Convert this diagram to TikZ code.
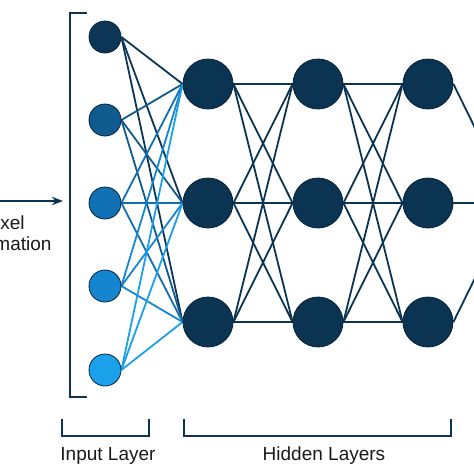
\documentclass[tikz,border=0pt]{standalone}
\usepackage{fontspec}
\setmainfont{Liberation Sans}
\usetikzlibrary{
    arrows.meta,
    backgrounds,
    positioning
}
\definecolor{navy}{HTML}{0B3352}
\definecolor{navyline}{HTML}{07243A}
\definecolor{inA}{HTML}{0C3556}
\definecolor{inB}{HTML}{0F5A8E}
\definecolor{inC}{HTML}{1170B4}
\definecolor{inD}{HTML}{1685CF}
\definecolor{inE}{HTML}{1BA0EC}
\definecolor{txt}{HTML}{1A1A1A}
\tikzset{
    every picture/.style = {
        > = Stealth,
        line width = 1.8pt
    },
    wire/.style = {
        line width = 1.8pt
    },
    inunit/.style = {
        circle,
        draw = navyline,
        line width = 0.8pt,
        minimum size = 32pt,
        inner sep = 0pt
    },
    hidunit/.style = {
        circle,
        fill = navy,
        draw = navyline,
        line width = 0.8pt,
        minimum size = 50pt,
        inner sep = 0pt
    },
    caption/.style = {
        text = txt,
        font = \fontsize{19}{21}\selectfont,
        inner sep = 0pt,
        align = center
    }
}

\begin{document}
\begin{tikzpicture}[x = 1pt, y = -1pt]
    \useasboundingbox (0,0) rectangle (474,474);

    % input layer
    \foreach \i/\y/\c in {1/37/inA, 2/120/inB, 3/203/inC, 4/286/inD, 5/370/inE}
        \node[inunit, fill = \c] (i\i) at (105,\y) {};

    % hidden layers
    \foreach \l/\x in {1/208, 2/318, 3/428}
        \foreach \j/\y in {1/84, 2/203, 3/322}
            \node[hidunit] (h\l\j) at (\x,\y) {};

    \coordinate (out) at (512,203);

    \begin{scope}[on background layer]
        \foreach \i/\c in {1/inA, 2/inB, 3/inC, 4/inD, 5/inE}
            \foreach \j in {1,2,3}
                \draw[wire, \c] (i\i.east) -- (h1\j.west);
        \foreach \l/\m in {1/2, 2/3}
            \foreach \j in {1,2,3}
                \foreach \k in {1,2,3}
                    \draw[wire, navy] (h\l\j.east) -- (h\m\k.west);
        \foreach \j in {1,2,3}
            \draw[wire, navy] (h3\j.east) -- (out);
    \end{scope}

    % brackets
    \draw[navy] (87,13) -- (70,13) -- (70,397) -- (87,397);
    \draw[navy] (62,419) -- (62,436) -- (149,436) -- (149,419);
    \draw[navy] (184,419) -- (184,436) -- (451,436) -- (451,419);

    \node[caption] (inlbl) at (108,456) {Input Layer};
    \node[caption] (hidlbl) at (324,456) {Hidden Layers};

    % pixel input
    \node[caption] (pixlbl) at (4,233) {Pixel\\Information};
    \coordinate (pixsrc) at (-20,201);
    \coordinate (pixend) at (63,201);
    \draw[navy, ->] (pixsrc) -- (pixend);
\end{tikzpicture}
\end{document}
